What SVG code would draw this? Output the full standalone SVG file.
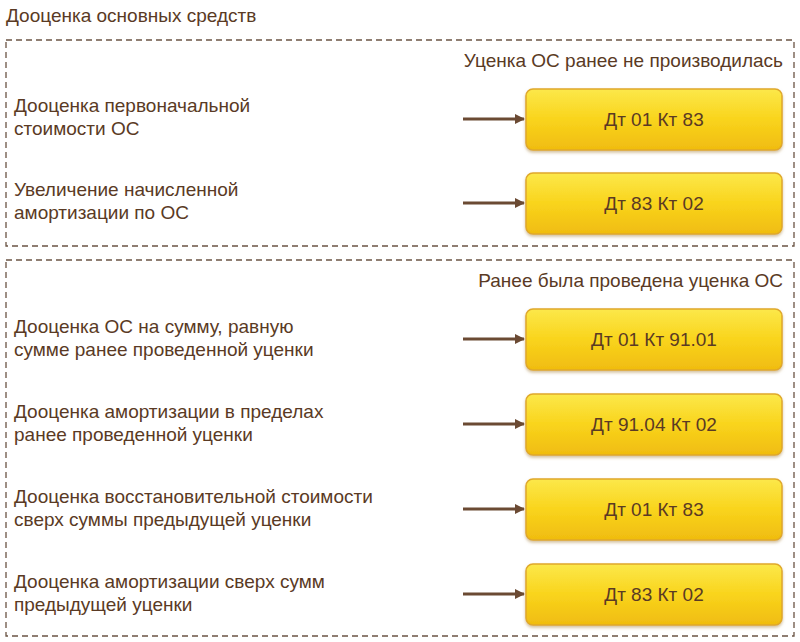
<svg xmlns="http://www.w3.org/2000/svg" width="800" height="642" viewBox="0 0 800 642">
<defs>
<linearGradient id="g" x1="0" y1="0" x2="0" y2="1"><stop offset="0" stop-color="#fce84a"/><stop offset="0.5" stop-color="#f9d41c"/><stop offset="1" stop-color="#f0bc10"/></linearGradient>
<marker id="ah" markerWidth="10" markerHeight="10" refX="9" refY="5" orient="auto" markerUnits="userSpaceOnUse"><path d="M0,0 L10,5 L0,10 z" fill="#6b4a33"/></marker>
<filter id="sh" x="-5%" y="-10%" width="110%" height="130%"><feDropShadow dx="0" dy="2" stdDeviation="1.5" flood-color="#b89a60" flood-opacity="0.6"/></filter>
</defs>
<style>
text{font-family:"Liberation Sans",Arial,sans-serif;fill:#5a3a24;font-size:19px}
.box{fill:url(#g);stroke:#e0a82a;stroke-width:1.5;filter:url(#sh)}
.c{text-anchor:middle}
.r{text-anchor:end}
.sec{fill:none;stroke:#6b5444;stroke-width:1.3;stroke-dasharray:6,4}
.ar{stroke:#6b4a33;stroke-width:3;marker-end:url(#ah)}
</style>
<rect width="800" height="642" fill="#fff"/>
<text x="6" y="22">Дооценка основных средств</text>
<rect class="sec" x="6" y="40" width="788" height="206"/>
<rect class="sec" x="6" y="260" width="788" height="376"/>
<text class="r" x="783" y="67">Уценка ОС ранее не производилась</text>
<text class="r" x="783" y="287">Ранее была проведена уценка ОС</text>
<g id="connectors">
<line class="ar" x1="463" y1="119" x2="524" y2="119"/>
<line class="ar" x1="463" y1="203" x2="524" y2="203"/>
<line class="ar" x1="463" y1="339" x2="524" y2="339"/>
<line class="ar" x1="463" y1="424" x2="524" y2="424"/>
<line class="ar" x1="463" y1="509" x2="524" y2="509"/>
<line class="ar" x1="463" y1="594" x2="524" y2="594"/>
</g>
<g id="n1"><text x="14" y="112">Дооценка первоначальной</text><text x="14" y="135">стоимости ОС</text><rect class="box" x="526" y="89" width="256" height="61" rx="7"/><text class="c" x="654" y="126">Дт 01 Кт 83</text></g>
<g id="n2"><text x="14" y="196">Увеличение начисленной</text><text x="14" y="219">амортизации по ОС</text><rect class="box" x="526" y="173" width="256" height="61" rx="7"/><text class="c" x="654" y="210">Дт 83 Кт 02</text></g>
<g id="n3"><text x="14" y="333">Дооценка ОС на сумму, равную</text><text x="14" y="356">сумме ранее проведенной уценки</text><rect class="box" x="526" y="309" width="256" height="61" rx="7"/><text class="c" x="654" y="346">Дт 01 Кт 91.01</text></g>
<g id="n4"><text x="14" y="418">Дооценка амортизации в пределах</text><text x="14" y="441">ранее проведенной уценки</text><rect class="box" x="526" y="394" width="256" height="61" rx="7"/><text class="c" x="654" y="431">Дт 91.04 Кт 02</text></g>
<g id="n5"><text x="14" y="503">Дооценка восстановительной стоимости</text><text x="14" y="526">сверх суммы предыдущей уценки</text><rect class="box" x="526" y="479" width="256" height="61" rx="7"/><text class="c" x="654" y="516">Дт 01 Кт 83</text></g>
<g id="n6"><text x="14" y="588">Дооценка амортизации сверх сумм</text><text x="14" y="611">предыдущей уценки</text><rect class="box" x="526" y="564" width="256" height="61" rx="7"/><text class="c" x="654" y="601">Дт 83 Кт 02</text></g>
</svg>
